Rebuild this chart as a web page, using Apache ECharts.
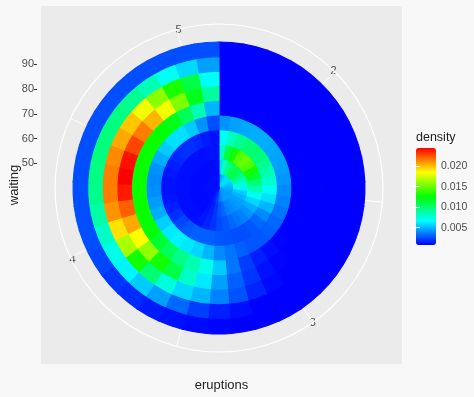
<!DOCTYPE html>
<html>
<head>
<meta charset="utf-8">
<script src="https://cdn.jsdelivr.net/npm/echarts@6/dist/echarts.min.js"></script>
<style>
html, body { margin: 0; padding: 0; background: #f8f8f8; }
#densityPolar { width: 474px; height: 397px; }
</style>
</head>
<body>
<div id="densityPolar"></div>
<script>
// 2d density of eruptions (angle) x waiting (radius)
const eruptions = [1.600, 1.697, 1.794, 1.892, 1.989, 2.086, 2.183, 2.281, 2.378, 2.475,
    2.572, 2.669, 2.767, 2.864, 2.961, 3.058, 3.156, 3.253, 3.350, 3.447,
    3.544, 3.642, 3.739, 3.836, 3.933, 4.031, 4.128, 4.225, 4.322, 4.419,
    4.517, 4.614, 4.711, 4.808, 4.906, 5.003, 5.100];
const waiting = [43.00, 48.89, 54.78, 60.67, 66.56, 72.44, 78.33, 84.22, 90.11, 96.00];

// one row per waiting value, one column per eruptions value
const density = [
    [0.0040, 0.0050, 0.0055, 0.0060, 0.0060, 0.0060, 0.0058, 0.0055, 0.0052, 0.0050, 0.0048, 0.0046, 0.0045, 0.0045, 0.0045, 0.0045, 0.0044, 0.0040,
     0.0035, 0.0025, 0.0018, 0.0014, 0.0012, 0.0011, 0.0011, 0.0011, 0.0011, 0.0011, 0.0011, 0.0011, 0.0011, 0.0011, 0.0011, 0.0011, 0.0011, 0.0011, 0.0011],
    [0.0060, 0.0080, 0.0095, 0.0105, 0.0110, 0.0105, 0.0095, 0.0085, 0.0075, 0.0065, 0.0055, 0.0050, 0.0046, 0.0044, 0.0042, 0.0040, 0.0038, 0.0033,
     0.0028, 0.0020, 0.0015, 0.0012, 0.0010, 0.0010, 0.0010, 0.0010, 0.0010, 0.0010, 0.0010, 0.0010, 0.0010, 0.0010, 0.0010, 0.0010, 0.0010, 0.0010, 0.0010],
    [0.0080, 0.0110, 0.0130, 0.0145, 0.0150, 0.0145, 0.0130, 0.0115, 0.0098, 0.0085, 0.0070, 0.0058, 0.0048, 0.0042, 0.0038, 0.0035, 0.0032, 0.0028,
     0.0025, 0.0020, 0.0016, 0.0013, 0.0011, 0.0011, 0.0011, 0.0011, 0.0011, 0.0011, 0.0011, 0.0011, 0.0011, 0.0011, 0.0011, 0.0011, 0.0011, 0.0012, 0.0012],
    [0.0068, 0.0082, 0.0092, 0.0098, 0.0100, 0.0098, 0.0092, 0.0085, 0.0078, 0.0070, 0.0060, 0.0050, 0.0040, 0.0032, 0.0028, 0.0026, 0.0026, 0.0027,
     0.0028, 0.0030, 0.0030, 0.0030, 0.0028, 0.0024, 0.0019, 0.0015, 0.0013, 0.0012, 0.0012, 0.0013, 0.0015, 0.0017, 0.0019, 0.0019, 0.0017, 0.0014, 0.0012],
    [0.0042, 0.0045, 0.0047, 0.0048, 0.0048, 0.0047, 0.0046, 0.0045, 0.0043, 0.0040, 0.0038, 0.0035, 0.0032, 0.0030, 0.0028, 0.0028, 0.0030, 0.0035,
     0.0040, 0.0050, 0.0058, 0.0062, 0.0064, 0.0062, 0.0056, 0.0048, 0.0044, 0.0041, 0.0040, 0.0042, 0.0048, 0.0055, 0.0060, 0.0060, 0.0055, 0.0042, 0.0026],
    [0.0008, 0.0008, 0.0008, 0.0008, 0.0008, 0.0008, 0.0008, 0.0008, 0.0008, 0.0008, 0.0008, 0.0008, 0.0008, 0.0009, 0.0011, 0.0015, 0.0022, 0.0035,
     0.0055, 0.0072, 0.0085, 0.0095, 0.0105, 0.0115, 0.0125, 0.0128, 0.0128, 0.0128, 0.0128, 0.0128, 0.0128, 0.0128, 0.0125, 0.0120, 0.0105, 0.0085, 0.0050],
    [0.0008, 0.0008, 0.0008, 0.0008, 0.0008, 0.0008, 0.0008, 0.0008, 0.0008, 0.0008, 0.0008, 0.0008, 0.0008, 0.0008, 0.0009, 0.0012, 0.0020, 0.0030,
     0.0045, 0.0062, 0.0080, 0.0110, 0.0130, 0.0160, 0.0185, 0.0205, 0.0222, 0.0238, 0.0244, 0.0240, 0.0228, 0.0215, 0.0202, 0.0182, 0.0155, 0.0120, 0.0090],
    [0.0008, 0.0008, 0.0008, 0.0008, 0.0008, 0.0008, 0.0008, 0.0008, 0.0008, 0.0008, 0.0008, 0.0008, 0.0008, 0.0008, 0.0008, 0.0010, 0.0016, 0.0027,
     0.0038, 0.0050, 0.0058, 0.0075, 0.0100, 0.0130, 0.0165, 0.0192, 0.0210, 0.0215, 0.0215, 0.0212, 0.0205, 0.0198, 0.0182, 0.0158, 0.0132, 0.0110, 0.0068],
    [0.0008, 0.0008, 0.0008, 0.0008, 0.0008, 0.0008, 0.0008, 0.0008, 0.0008, 0.0008, 0.0008, 0.0008, 0.0008, 0.0008, 0.0008, 0.0008, 0.0008, 0.0011,
     0.0015, 0.0022, 0.0032, 0.0045, 0.0055, 0.0065, 0.0072, 0.0080, 0.0088, 0.0094, 0.0096, 0.0097, 0.0097, 0.0096, 0.0092, 0.0084, 0.0070, 0.0058, 0.0045],
    [0.0008, 0.0008, 0.0008, 0.0008, 0.0008, 0.0008, 0.0008, 0.0008, 0.0008, 0.0008, 0.0008, 0.0008, 0.0008, 0.0008, 0.0008, 0.0008, 0.0008, 0.0008,
     0.0009, 0.0010, 0.0012, 0.0014, 0.0018, 0.0020, 0.0024, 0.0026, 0.0026, 0.0026, 0.0026, 0.0026, 0.0026, 0.0026, 0.0026, 0.0026, 0.0026, 0.0026, 0.0026]
];

const waitingTicks = [50, 60, 70, 80, 90];
const densityTicks = [0.005, 0.010, 0.015, 0.020];
const fillColors = ['#0000ff', '#00ffff', '#00ff00', '#ffff00', '#ff0000'];

const fontFamily = '"Liberation Sans", Arial, sans-serif';
const cx = 219, cy = 188, discR = 146, outerR = 164;

// tile extents
const de = eruptions[1] - eruptions[0];
const dw = waiting[1] - waiting[0];
const thetaMin = eruptions[0] - de / 2;
const thetaMax = eruptions[eruptions.length - 1] + de / 2;
const rMin = waiting[0] - dw / 2;
const rMax = waiting[waiting.length - 1] + dw / 2;

const tiles = [];
let dMin = Infinity, dMax = -Infinity;
for (let j = 0; j < waiting.length; j++) {
    for (let i = 0; i < eruptions.length; i++) {
        const d = density[j][i];
        tiles.push([waiting[j], eruptions[i], d]);
        dMin = Math.min(dMin, d);
        dMax = Math.max(dMax, d);
    }
}

function renderTile (params, api) {
    const w = api.value(0);
    const e = api.value(1);
    const cs = params.coordSys;
    const inner = api.coord([w - dw / 2, e]);
    const pa = api.coord([w + dw / 2, e - de / 2]);
    const pb = api.coord([w + dw / 2, e + de / 2]);
    const r0 = Math.hypot(inner[0] - cs.cx, inner[1] - cs.cy);
    const r = Math.hypot(pa[0] - cs.cx, pa[1] - cs.cy);
    const a0 = Math.atan2(pa[1] - cs.cy, pa[0] - cs.cx);
    let a1 = Math.atan2(pb[1] - cs.cy, pb[0] - cs.cx);
    if (a1 < a0) a1 += Math.PI * 2;
    const color = api.visual('color');
    return {
        type: 'sector',
        shape: { cx: cs.cx, cy: cs.cy, r0: r0, r: r, startAngle: a0, endAngle: a1, clockwise: true },
        style: { fill: color, stroke: color, lineWidth: 1.1 }
    };
}

// pixel placement of the waiting axis and the colour bar axis
const rScale = discR / (rMax - rMin);
const waitTop = cy - (waitingTicks[waitingTicks.length - 1] - rMin) * rScale;
const waitHeight = (waitingTicks[waitingTicks.length - 1] - waitingTicks[0]) * rScale;
const barTop = 148, barHeight = 97;
const dScale = barHeight / (dMax - dMin);
const legTop = barTop + (dMax - densityTicks[densityTicks.length - 1]) * dScale;
const legHeight = (densityTicks[densityTicks.length - 1] - densityTicks[0]) * dScale;

const chart = echarts.init(document.getElementById('densityPolar'));
const hidden = { axisLine: { show: false }, axisTick: { show: false }, axisLabel: { show: false }, splitLine: { show: false } };

const option = {
    backgroundColor: '#f8f8f8',
    animation: false,
    textStyle: { fontFamily: fontFamily },
    title: {
        text: 'density',
        left: 416,
        top: 131,
        padding: 0,
        textStyle: { fontSize: 12.5, fontWeight: 'normal', color: '#222', fontFamily: fontFamily }
    },
    grid: [
        { left: 37, top: 6, width: 365, height: 364, show: true, backgroundColor: '#ebebeb', borderWidth: 0 },
        { left: 37, top: waitTop, width: 1, height: waitHeight },
        { left: 416, top: legTop, width: 20, height: legHeight }
    ],
    xAxis: [
        Object.assign({ gridIndex: 0, type: 'value', name: 'eruptions', nameLocation: 'middle', nameGap: 15,
            nameTextStyle: { fontSize: 13, color: '#222', fontFamily: fontFamily } }, hidden),
        Object.assign({ gridIndex: 1, type: 'value', show: false }, hidden),
        Object.assign({ gridIndex: 2, type: 'value', show: false }, hidden)
    ],
    yAxis: [
        Object.assign({ gridIndex: 0, type: 'value', name: 'waiting', nameLocation: 'middle', nameGap: 20,
            nameTextStyle: { fontSize: 13, color: '#222', fontFamily: fontFamily } }, hidden),
        {
            gridIndex: 1, type: 'value', min: waitingTicks[0], max: waitingTicks[waitingTicks.length - 1], interval: 10,
            axisLine: { show: false },
            axisTick: { show: true, length: 3, lineStyle: { color: '#333', width: 1 } },
            axisLabel: { color: '#4d4d4d', fontSize: 11, margin: 3, fontFamily: fontFamily },
            splitLine: { show: false }
        },
        {
            gridIndex: 2, type: 'value', position: 'right', z: 10,
            min: densityTicks[0], max: densityTicks[densityTicks.length - 1], interval: 0.005,
            axisLine: { show: false },
            axisTick: { show: true, inside: true, length: 4, lineStyle: { color: '#fff', width: 1 } },
            axisLabel: { color: '#4d4d4d', fontSize: 10.5, margin: 5, fontFamily: fontFamily, formatter: v => v.toFixed(3) },
            splitLine: { show: false }
        },
        {
            gridIndex: 2, type: 'value', position: 'left', z: 10,
            min: densityTicks[0], max: densityTicks[densityTicks.length - 1], interval: 0.005,
            axisLine: { show: false },
            axisTick: { show: true, inside: true, length: 4, lineStyle: { color: '#fff', width: 1 } },
            axisLabel: { show: false },
            splitLine: { show: false }
        }
    ],
    polar: [
        { center: [cx, cy], radius: outerR },
        { center: [cx, cy], radius: discR }
    ],
    angleAxis: [
        {
            polarIndex: 0, type: 'value', min: thetaMin, max: thetaMax, startAngle: 90, clockwise: true, splitNumber: 7,
            axisLine: { show: true, lineStyle: { color: '#ffffff', width: 1.2 } },
            axisTick: { show: false },
            axisLabel: {
                color: '#4d4d4d', fontSize: 11, margin: -6, fontFamily: fontFamily,
                formatter: v => (Math.abs(v - Math.round(v)) < 1e-6 ? String(Math.round(v)) : '')
            },
            splitLine: {
                show: true,
                lineStyle: { width: 1, color: ['rgba(0,0,0,0)', '#fff', '#fff', '#fff', '#fff', '#fff', '#fff', '#fff', 'rgba(0,0,0,0)'] }
            }
        },
        Object.assign({ polarIndex: 1, type: 'value', min: thetaMin, max: thetaMax, startAngle: 90, clockwise: true, show: false }, hidden)
    ],
    radiusAxis: [
        Object.assign({ polarIndex: 0, type: 'value', min: 0, max: 1, show: false }, hidden),
        Object.assign({ polarIndex: 1, type: 'value', min: rMin, max: rMax, show: false }, hidden)
    ],
    visualMap: {
        type: 'continuous',
        min: dMin,
        max: dMax,
        dimension: 2,
        seriesIndex: 0,
        calculable: false,
        hoverLink: false,
        left: 416,
        top: barTop,
        padding: 0,
        itemWidth: 20,
        itemHeight: barHeight,
        inRange: { color: fillColors }
    },
    series: [{
        type: 'custom',
        coordinateSystem: 'polar',
        polarIndex: 1,
        renderItem: renderTile,
        data: tiles,
        silent: true
    }]
};

chart.setOption(option);
</script>
</body>
</html>
